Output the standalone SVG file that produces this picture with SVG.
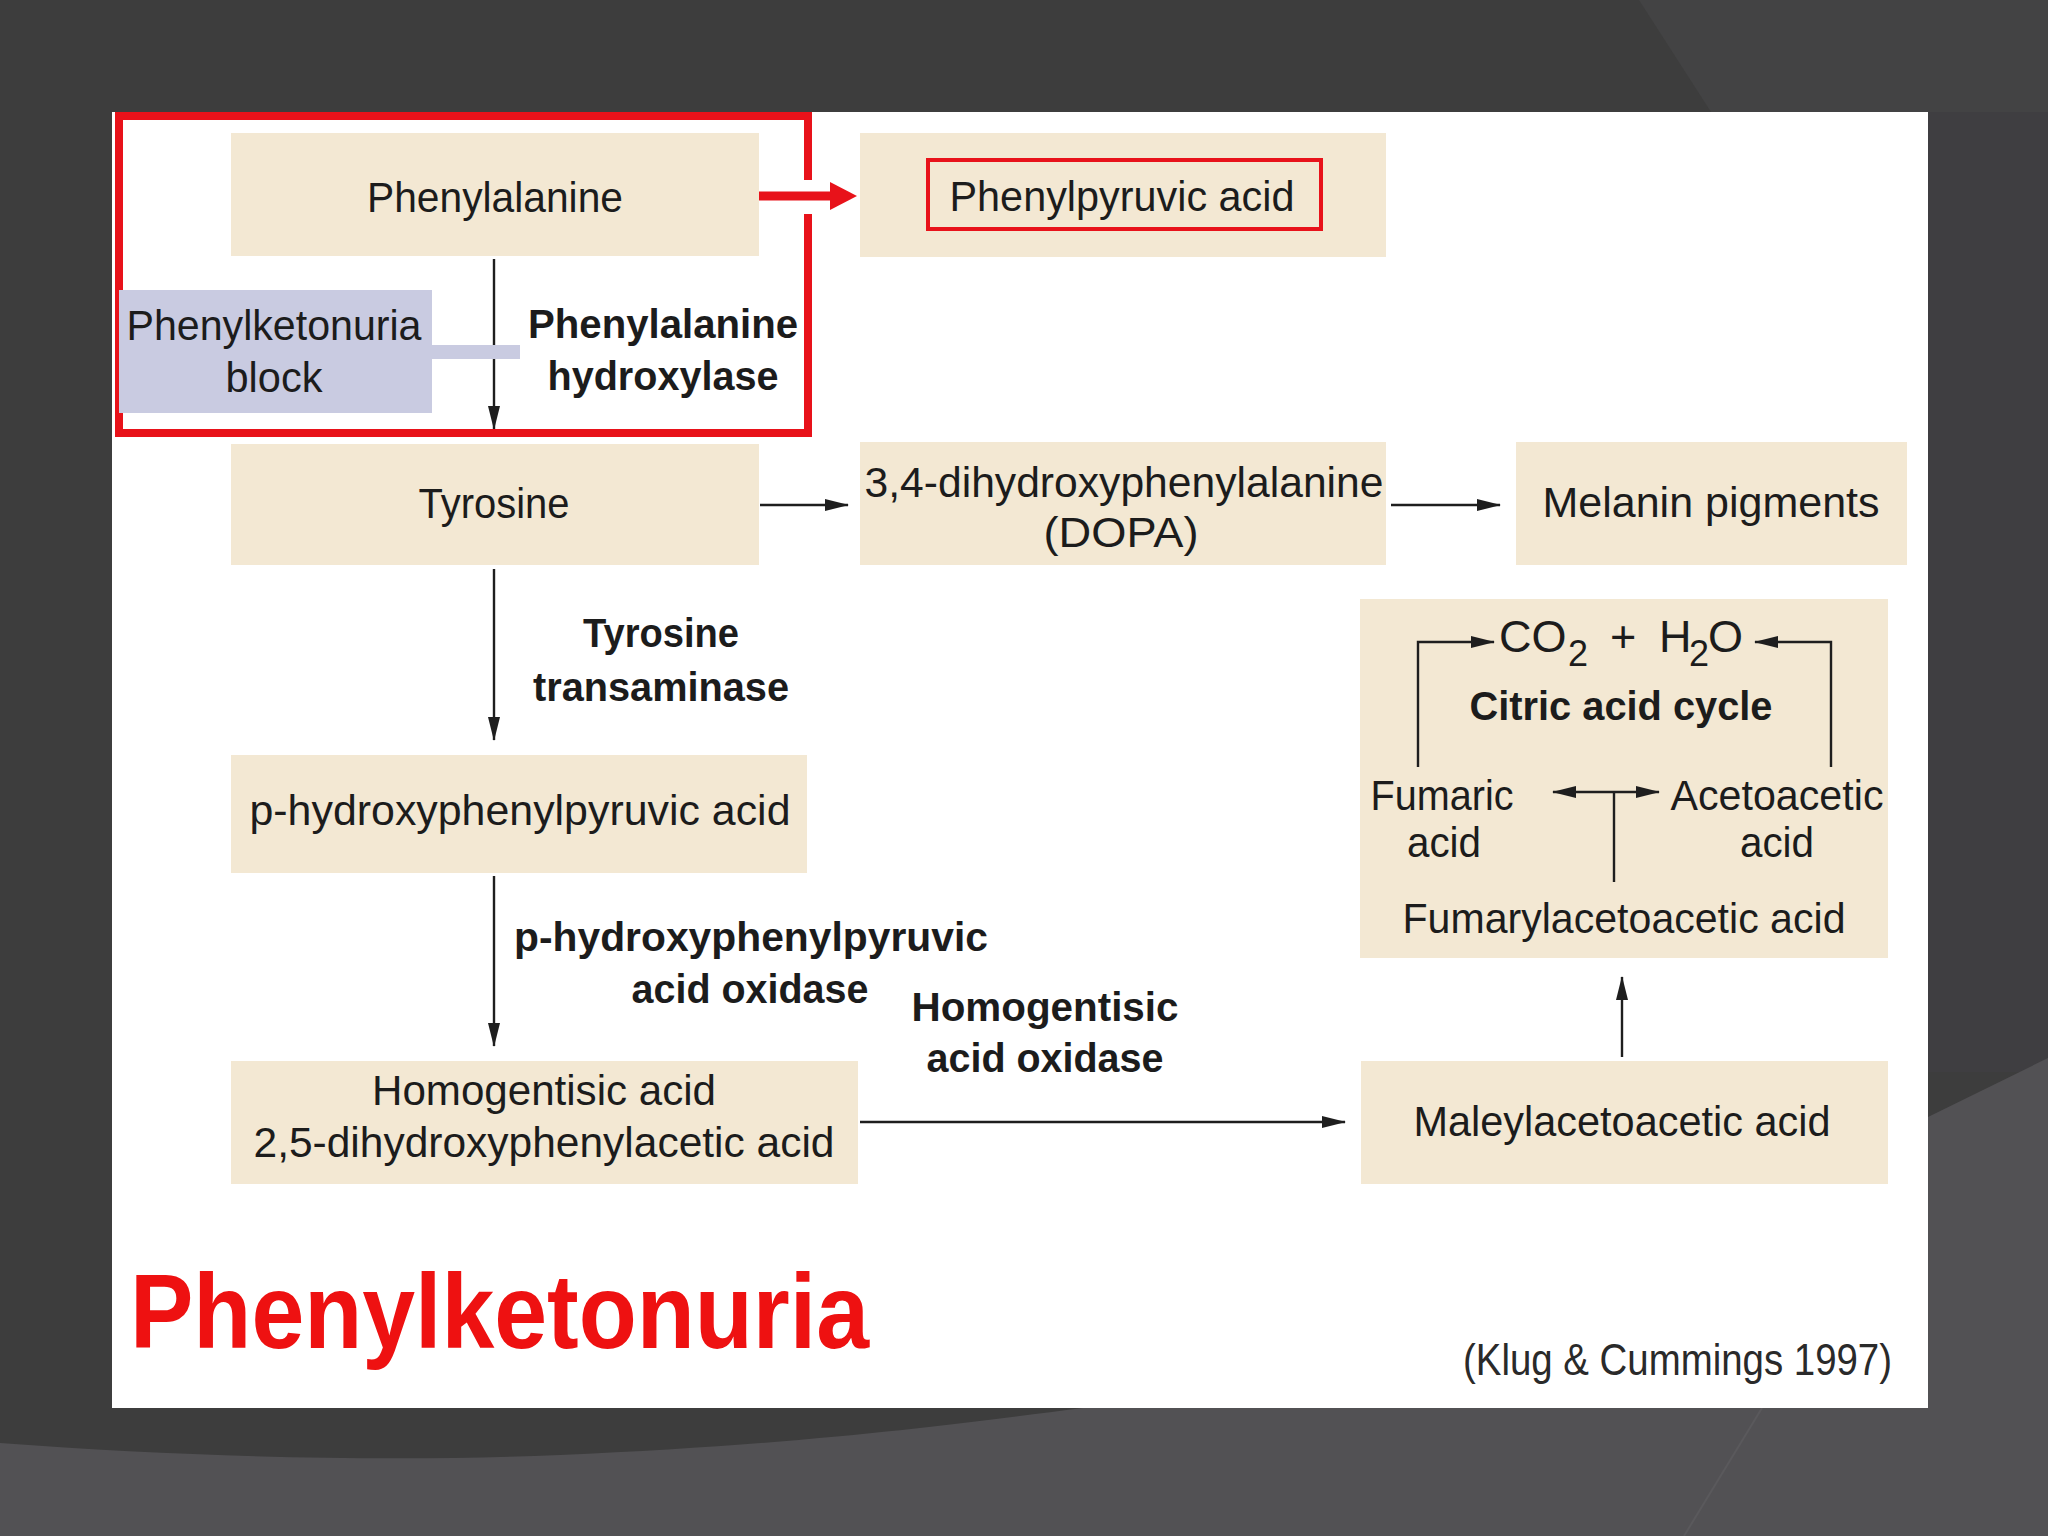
<svg xmlns="http://www.w3.org/2000/svg" width="2048" height="1536" viewBox="0 0 2048 1536">
<defs>
<style>
.nd{fill:#f3e8d3}
.t{font-family:"Liberation Sans",Arial,sans-serif;font-size:43px;fill:#1c1c1c;text-anchor:middle}
.b{font-family:"Liberation Sans",Arial,sans-serif;font-size:41px;font-weight:bold;fill:#1c1c1c;text-anchor:middle}
.ln{stroke:#1e1e1e;stroke-width:2.4;fill:none}
</style>
<marker id="arr" viewBox="0 0 24 12" markerWidth="24" markerHeight="12" markerUnits="userSpaceOnUse" refX="23" refY="6" orient="auto">
<path d="M0,0 L24,6 L0,12 Z" fill="#1e1e1e"/>
</marker>
</defs>
<!-- background -->
<rect width="2048" height="1536" fill="#3d3d3d"/>
<polygon points="1639,0 2048,0 2048,112 1711,112" fill="#434344"/>
<rect x="1928" y="112" width="120" height="960" fill="#3f3e41"/>
<path d="M0,1443 C200,1458 400,1462 560,1455 C800,1445 950,1425 1083,1408 L1928,1408 L1928,1117 L2048,1058 L2048,1536 L0,1536 Z" fill="#525154"/>
<line x1="1762" y1="1408" x2="1684" y2="1536" stroke="#5a595c" stroke-width="2"/>
<rect x="112" y="112" width="1816" height="1296" fill="#ffffff"/>

<g id="connectors">
<line class="ln" x1="494" y1="259" x2="494" y2="429" marker-end="url(#arr)"/>
<line x1="759" y1="196" x2="834" y2="196" stroke="#e8121a" stroke-width="9"/>
<polygon points="830,182 857,196 830,210" fill="#e8121a"/>
<line class="ln" x1="760" y1="505" x2="848" y2="505" marker-end="url(#arr)"/>
<line class="ln" x1="1391" y1="505" x2="1500" y2="505" marker-end="url(#arr)"/>
<line class="ln" x1="494" y1="569" x2="494" y2="740" marker-end="url(#arr)"/>
<line class="ln" x1="494" y1="876" x2="494" y2="1046" marker-end="url(#arr)"/>
<line class="ln" x1="860" y1="1122" x2="1345" y2="1122" marker-end="url(#arr)"/>
<line class="ln" x1="1622" y1="1057" x2="1622" y2="977" marker-end="url(#arr)"/>
</g>

<g id="highlight">
<path d="M808,214 V433 H119 V116 H808 V180" fill="none" stroke="#e8121a" stroke-width="8" stroke-linejoin="miter"/>
</g>

<g id="phenylalanine">
<rect class="nd" x="231" y="133" width="528" height="123"/>
<text class="t" x="495" y="212" textLength="256" lengthAdjust="spacingAndGlyphs">Phenylalanine</text>
</g>

<g id="phenylpyruvic">
<rect class="nd" x="860" y="133" width="526" height="124"/>
<rect x="928" y="160" width="393" height="69" fill="none" stroke="#e8121a" stroke-width="4"/>
<text class="t" x="1122" y="211" textLength="345" lengthAdjust="spacingAndGlyphs">Phenylpyruvic acid</text>
</g>

<g id="pku-block">
<rect x="119" y="290" width="313" height="123" fill="#c9cbe1"/>
<rect x="432" y="345" width="88" height="14" fill="#c9cbe1"/>
<text class="t" x="274" y="340" textLength="295" lengthAdjust="spacingAndGlyphs">Phenylketonuria</text>
<text class="t" x="274" y="392" textLength="97" lengthAdjust="spacingAndGlyphs">block</text>
</g>

<g id="label-hydroxylase">
<text class="b" x="663" y="338" textLength="270" lengthAdjust="spacingAndGlyphs">Phenylalanine</text>
<text class="b" x="663" y="390" textLength="231" lengthAdjust="spacingAndGlyphs">hydroxylase</text>
</g>

<g id="tyrosine">
<rect class="nd" x="231" y="444" width="528" height="121"/>
<text class="t" x="494" y="518" textLength="151" lengthAdjust="spacingAndGlyphs">Tyrosine</text>
</g>

<g id="dopa">
<rect class="nd" x="860" y="442" width="526" height="123"/>
<text class="t" x="1124" y="497" textLength="519" lengthAdjust="spacingAndGlyphs">3,4-dihydroxyphenylalanine</text>
<text class="t" x="1121" y="547" textLength="155" lengthAdjust="spacingAndGlyphs">(DOPA)</text>
</g>

<g id="melanin">
<rect class="nd" x="1516" y="442" width="391" height="123"/>
<text class="t" x="1711" y="517" textLength="337" lengthAdjust="spacingAndGlyphs">Melanin pigments</text>
</g>

<g id="label-transaminase">
<text class="b" x="661" y="647" textLength="156" lengthAdjust="spacingAndGlyphs">Tyrosine</text>
<text class="b" x="661" y="701" textLength="256" lengthAdjust="spacingAndGlyphs">transaminase</text>
</g>

<g id="p-hydroxyphenylpyruvic">
<rect class="nd" x="231" y="755" width="576" height="118"/>
<text class="t" x="520" y="825" textLength="541" lengthAdjust="spacingAndGlyphs">p-hydroxyphenylpyruvic acid</text>
</g>

<g id="label-phpp-oxidase">
<text class="b" x="751" y="951" textLength="474" lengthAdjust="spacingAndGlyphs">p-hydroxyphenylpyruvic</text>
<text class="b" x="750" y="1003" textLength="237" lengthAdjust="spacingAndGlyphs">acid oxidase</text>
</g>

<g id="label-homogentisic-oxidase">
<text class="b" x="1045" y="1021" textLength="267" lengthAdjust="spacingAndGlyphs">Homogentisic</text>
<text class="b" x="1045" y="1072" textLength="237" lengthAdjust="spacingAndGlyphs">acid oxidase</text>
</g>

<g id="homogentisic">
<rect class="nd" x="231" y="1061" width="627" height="123"/>
<text class="t" x="544" y="1105" textLength="344" lengthAdjust="spacingAndGlyphs">Homogentisic acid</text>
<text class="t" x="544" y="1157" textLength="581" lengthAdjust="spacingAndGlyphs">2,5-dihydroxyphenylacetic acid</text>
</g>

<g id="maleylacetoacetic">
<rect class="nd" x="1361" y="1061" width="527" height="123"/>
<text class="t" x="1622" y="1136" textLength="417" lengthAdjust="spacingAndGlyphs">Maleylacetoacetic acid</text>
</g>

<g id="citric-cycle">
<rect class="nd" x="1360" y="599" width="528" height="359"/>
<path class="ln" d="M1418,767 V642 H1494" marker-end="url(#arr)"/>
<path class="ln" d="M1831,767 V642 H1755" marker-end="url(#arr)"/>
<line class="ln" x1="1614" y1="792" x2="1553" y2="792" marker-end="url(#arr)"/>
<line class="ln" x1="1614" y1="792" x2="1659" y2="792" marker-end="url(#arr)"/>
<line class="ln" x1="1614" y1="792" x2="1614" y2="882"/>
<text font-family="Liberation Sans, Arial, sans-serif" font-size="45" fill="#1c1c1c"><tspan x="1499" y="652">CO</tspan><tspan x="1568" y="666" font-size="36">2</tspan><tspan x="1610" y="652">+</tspan><tspan x="1659" y="652">H</tspan><tspan x="1689" y="666" font-size="36">2</tspan><tspan x="1708" y="652">O</tspan></text>
<text class="b" x="1621" y="720" font-size="43" textLength="303" lengthAdjust="spacingAndGlyphs">Citric acid cycle</text>
<text class="t" x="1442" y="810" textLength="143" lengthAdjust="spacingAndGlyphs">Fumaric</text>
<text class="t" x="1444" y="857" textLength="74" lengthAdjust="spacingAndGlyphs">acid</text>
<text class="t" x="1777" y="810" textLength="213" lengthAdjust="spacingAndGlyphs">Acetoacetic</text>
<text class="t" x="1777" y="857" textLength="74" lengthAdjust="spacingAndGlyphs">acid</text>
<text class="t" x="1624" y="933" textLength="443" lengthAdjust="spacingAndGlyphs">Fumarylacetoacetic acid</text>
</g>

<g id="title">
<text x="130" y="1348" font-family="Liberation Sans, Arial, sans-serif" font-size="106" font-weight="bold" fill="#ee1111" textLength="739" lengthAdjust="spacingAndGlyphs">Phenylketonuria</text>
</g>
<g id="citation">
<text x="1463" y="1375" font-family="Liberation Sans, Arial, sans-serif" font-size="44" fill="#2a2a2a" textLength="429" lengthAdjust="spacingAndGlyphs">(Klug &amp; Cummings 1997)</text>
</g>
</svg>
